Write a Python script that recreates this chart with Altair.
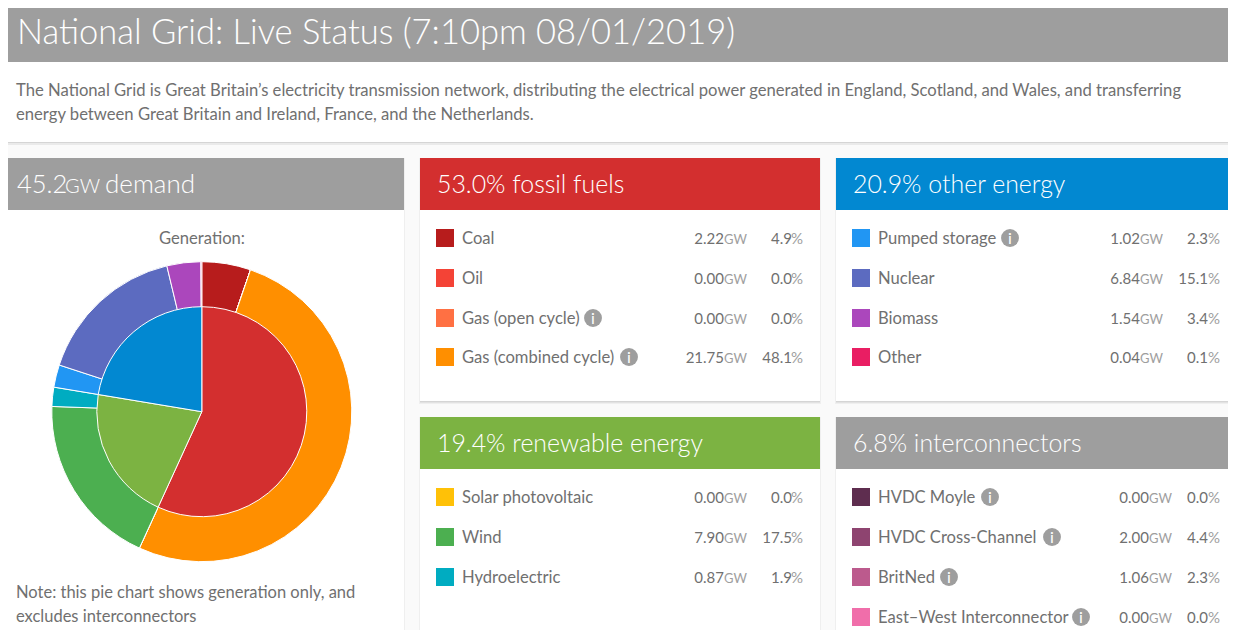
import altair as alt
import pandas as pd

# ---- values ----
title = "National Grid: Live Status (7:10pm 08/01/2019)"
intro = ["The National Grid is Great Britain’s electricity transmission network, distributing the electrical power generated in England, Scotland, and Wales, and transferring",
         "energy between Great Britain and Ireland, France, and the Netherlands."]
fossil_names = ["Coal", "Oil", "Gas (open cycle)", "Gas (combined cycle)"]
fossil_gw = [2.22, 0.00, 0.00, 21.75]
fossil_pct = [4.9, 0.0, 0.0, 48.1]
fossil_cols = ["#B71C1C", "#F44336", "#FF7043", "#FF8F00"]
other_names = ["Pumped storage", "Nuclear", "Biomass", "Other"]
other_gw = [1.02, 6.84, 1.54, 0.04]
other_pct = [2.3, 15.1, 3.4, 0.1]
other_cols = ["#2196F3", "#5C6BC0", "#AB47BC", "#E91E63"]
renew_names = ["Solar photovoltaic", "Wind", "Hydroelectric"]
renew_gw = [0.00, 7.90, 0.87]
renew_pct = [0.0, 17.5, 1.9]
renew_cols = ["#FFC107", "#4CAF50", "#00ACC1"]
inter_names = ["HVDC Moyle", "HVDC Cross-Channel", "BritNed", "East–West Interconnector"]
inter_gw = [0.00, 2.00, 1.06, 0.00]
inter_pct = [0.0, 4.4, 2.3, 0.0]
inter_cols = ["#5E2D4F", "#8E4470", "#BC5A8D", "#F06EAA"]
group_names = ["fossil fuels", "renewable energy", "other energy"]
group_gw = [23.97, 8.77, 9.44]
group_cols = ["#D32F2F", "#7CB342", "#0288D1"]

GREY = "#9E9E9E"
TXT = "#707070"
FONT = "Lato"
OFF = 8  # page margin: picture coordinates minus this are chart coordinates

# ---- layout (picture pixels) ----
panels = [
    dict(x=0, x2=404, y=158, y2=646, head=GREY, label="45.2", extra="GW demand"),
    dict(x=420, x2=820, y=158, y2=401, head=group_cols[0], label="53.0% fossil fuels",
         names=fossil_names, gw=fossil_gw, pct=fossil_pct, cols=fossil_cols, rows=[229, 269, 309, 348],
         unit=747, val=724, pc=803, pcn=792, info={2: 593, 3: 629}),
    dict(x=836, x2=1236, y=158, y2=401, head=group_cols[2], label="20.9% other energy",
         names=other_names, gw=other_gw, pct=other_pct, cols=other_cols, rows=[229, 269, 309, 348],
         unit=1163, val=1140, pc=1220, pcn=1208, info={0: 1010}),
    dict(x=420, x2=820, y=417, y2=646, head=group_cols[1], label="19.4% renewable energy",
         names=renew_names, gw=renew_gw, pct=renew_pct, cols=renew_cols, rows=[488, 528, 568],
         unit=747, val=724, pc=803, pcn=792, info={}),
    dict(x=836, x2=1236, y=417, y2=646, head=GREY, label="6.8% interconnectors",
         names=inter_names, gw=inter_gw, pct=inter_pct, cols=inter_cols, rows=[488, 528, 568, 608],
         unit=1172, val=1149, pc=1220, pcn=1208, info={0: 990, 1: 1052, 2: 949, 3: 1081}),
]

shadows, heads, bodies, swatches, icons = [], [], [], [], []
left, right, center, big = [], [], [], []


def box(store, x, x2, y, y2, fill):
    store.append(dict(x=x - OFF, x2=x2 - OFF, y=y - OFF, y2=y2 - OFF, fill=fill))


def txt(store, x, y, text, size, color):
    store.append(dict(x=x - OFF, y=y - OFF, text=text, size=size, color=color))


# top banner
box(shadows, 0, 1244, 62, 145, "#EAEAEA")
box(shadows, 0, 1244, 62, 143, "#D5D5D5")
box(bodies, 0, 1244, 62, 142, "#FFFFFF")
box(heads, 0, 1244, 2, 62, GREY)
txt(big, 17, 44, title, 34.5, "#FFFFFF")
txt(left, 16, 96, intro[0], 16.65, TXT)
txt(left, 16, 120, intro[1], 16.65, TXT)

for p in panels:
    box(shadows, p["x"] - 1, p["x2"] + 1, p["y"], p["y2"] + 3, "#EFEFEF")
    box(shadows, p["x"], p["x2"], p["y"] + 1, p["y2"] + 1.5, "#D5D5D5")
    box(bodies, p["x"], p["x2"], p["y"] + 52, p["y2"], "#FFFFFF")
    box(heads, p["x"], p["x2"], p["y"], p["y"] + 52, p["head"])
    base = p["y"] + 35
    if "extra" in p:
        txt(big, 17, base, p["label"], 25.5, "#FFFFFF")
        txt(big, 65, base, "GW", 20, "#FFFFFF")
        txt(big, 105, base, "demand", 26, "#FFFFFF")
        continue
    txt(big, p["x"] + 17, base, p["label"], 24.9, "#FFFFFF")
    for i, name in enumerate(p["names"]):
        top = p["rows"][i]
        box(swatches, p["x"] + 16, p["x"] + 34, top, top + 18, p["cols"][i])
        txt(left, p["x"] + 42, top + 15, name, 16.6, TXT)
        txt(right, p["val"], top + 15, f'{p["gw"][i]:.2f}', 15, TXT)
        txt(right, p["unit"], top + 15, "GW", 13, "#9E9E9E")
        txt(right, p["pcn"], top + 15, f'{p["pct"][i]:.1f}', 15, TXT)
        txt(right, p["pc"], top + 15, "%", 15, "#9E9E9E")
        if i in p["info"]:
            icons.append(dict(x=p["info"][i] - OFF, y=top + 9 - OFF))
            txt(center, p["info"][i], top + 15, "i", 16, "#FFFFFF")

txt(center, 202, 244, "Generation:", 16.6, TXT)
txt(left, 16, 598, "Note: this pie chart shows generation only, and", 16.5, TXT)
txt(left, 16, 622, "excludes interconnectors", 16.5, TXT)

px = alt.X("x:Q", scale=None, axis=None)
py = alt.Y("y:Q", scale=None, axis=None)
px2 = alt.X2("x2:Q")
py2 = alt.Y2("y2:Q")
fill = alt.Color("fill:N", scale=None, legend=None)


def rects(rows, **kw):
    return alt.Chart(pd.DataFrame(rows)).mark_rect(**kw).encode(x=px, x2=px2, y=py, y2=py2, color=fill)


def texts(rows, **kw):
    return alt.Chart(pd.DataFrame(rows)).mark_text(font=FONT, baseline="alphabetic", **kw).encode(
        x=px, y=py, text="text:N",
        size=alt.Size("size:Q", scale=None, legend=None),
        color=alt.Color("color:N", scale=None, legend=None))


# ---- the pie ----
outer = pd.DataFrame(dict(
    name=fossil_names + renew_names + other_names,
    gw=fossil_gw + renew_gw + other_gw,
    col=fossil_cols + renew_cols + other_cols))
outer["idx"] = range(len(outer))
inner = pd.DataFrame(dict(name=group_names, gw=group_gw, col=group_cols))
inner["idx"] = range(len(inner))
total = float(outer.gw.sum())


def ring(df, r):
    return alt.Chart(df).mark_arc(outerRadius=r, innerRadius=0, stroke="#FFFFFF", strokeWidth=1).encode(
        theta=alt.Theta("gw:Q", stack=True, scale=alt.Scale(domain=[0, total], range=[0, 6.28318530718])),
        order=alt.Order("idx:Q"),
        color=alt.Color("col:N", scale=None, legend=None),
        x=alt.value(201.8 - OFF), y=alt.value(411.7 - OFF))


chart = alt.layer(
    rects(shadows),
    rects(heads),
    rects(bodies),
    rects(swatches),
    ring(outer, 150),
    ring(inner, 105),
    alt.Chart(pd.DataFrame(icons)).mark_circle(size=320, color=GREY, opacity=1).encode(x=px, y=py),
    texts(big, align="left", fontWeight=300),
    texts(left, align="left"),
    texts(right, align="right"),
    texts(center, align="center"),
).properties(width=1220, height=622, background="#FAFAFA", padding=0,
             autosize=alt.AutoSizeParams(type="none", contains="content")
).configure_view(stroke=None)

chart.save("out.html", embed_options={"renderer": "svg", "actions": False})
